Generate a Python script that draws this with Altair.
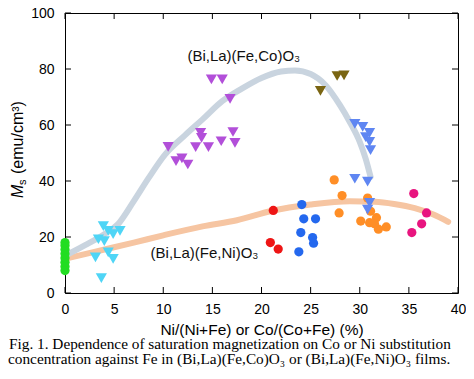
import altair as alt
import pandas as pd

# ---------------- data ----------------
# (Bi,La)(Fe,Co)O3 series – downward triangles
purple_x = [14.9, 16.0, 16.8, 13.8, 13.9, 17.1, 10.5, 13.3, 14.6, 15.9, 17.3, 11.3, 11.9, 12.5]
purple_y = [76.3, 76.3, 69.3, 57.2, 55.4, 57.5, 52.2, 52.1, 52.1, 54.2, 53.6, 47.1, 48.1, 45.9]
cyan_x = [3.9, 4.4, 3.4, 4.9, 5.6, 3.1, 4.4, 4.9, 3.7, 4.0]
cyan_y = [23.9, 22.2, 19.2, 21.0, 22.2, 12.7, 14.5, 12.2, 5.3, 18.5]
olive_x = [26.0, 27.7, 28.4]
olive_y = [72.2, 77.5, 77.7]
bluetri_x = [29.5, 30.3, 31.0, 30.6, 31.0, 31.1, 29.5, 30.8, 31.0, 30.8]
bluetri_y = [60.4, 59.3, 57.2, 55.7, 54.0, 51.0, 40.8, 39.8, 32.2, 29.8]

# (Bi,La)(Fe,Ni)O3 series – circles
green_x = [0, 0, 0, 0, 0, 0, 0, 0]
green_y = [8.0, 9.5, 11.0, 12.5, 14.0, 15.5, 17.0, 18.0]
red_x = [21.2, 20.9, 21.7]
red_y = [29.5, 18.0, 15.7]
bluecirc_x = [24.1, 24.3, 25.5, 24.0, 25.2, 25.3, 23.8]
bluecirc_y = [31.6, 26.5, 26.5, 21.6, 19.8, 17.8, 14.7]
orange_x = [27.4, 28.2, 27.9, 30.8, 31.1, 30.1, 31.0, 31.7, 31.9, 32.7, 31.5]
orange_y = [40.4, 34.8, 28.6, 33.9, 29.2, 25.7, 25.1, 26.9, 22.8, 23.6, 24.7]
magenta_x = [35.5, 36.8, 36.3, 35.3]
magenta_y = [35.5, 28.6, 24.7, 21.6]

# guide curves
co_curve_x = [0, 2, 4, 5.4, 7, 8.5, 10.2, 12.2, 14, 16, 18, 20, 22, 23.4, 25, 26.5, 28, 29, 30, 30.6, 31.1]
co_curve_y = [13.3, 17, 21, 24.6, 32.8, 41, 49.5, 56.3, 62, 68.5, 73, 76.8, 79.1, 79.5, 78.2, 74.3, 67, 61, 54, 48, 41.5]
ni_curve_x = [0, 3, 7, 10, 14, 17.5, 21, 25, 29, 31.5, 33.5, 35.6, 37.5, 39]
ni_curve_y = [12.2, 14.7, 18, 20.6, 23.8, 26, 29.3, 31.6, 32.8, 32.6, 31.8, 30.3, 28, 25.4]

x_ticks = [0, 5, 10, 15, 20, 25, 30, 35, 40]
y_ticks = [0, 20, 40, 60, 80, 100]

co_label = "(Bi,La)(Fe,Co)O₃"
ni_label = "(Bi,La)(Fe,Ni)O₃"
x_title = "Ni/(Ni+Fe) or Co/(Co+Fe) (%)"
caption1 = "Fig. 1. Dependence of saturation magnetization on Co or Ni substitution"
caption2 = "concentration against Fe in (Bi,La)(Fe,Co)O₃ or (Bi,La)(Fe,Ni)O₃ films."

tri_groups = ["purple", "cyan", "olive", "bluetri"]
tri_colors = ["#b24fd9", "#4fd5f6", "#7a6512", "#5f86f2"]
circ_groups = ["green", "red", "bluecirc", "orange", "magenta"]
circ_colors = ["#22dd22", "#ee1515", "#2468ee", "#ff8e26", "#e8157f"]
all_groups = tri_groups + circ_groups
all_colors = tri_colors + circ_colors

# ---------------- tables ----------------
def table(groups, xs, ys):
    rows = []
    for g, xx, yy in zip(groups, xs, ys):
        for a, b in zip(xx, yy):
            rows.append({"g": g, "x": a, "y": b})
    return pd.DataFrame(rows)

tri_df = table(tri_groups, [purple_x, cyan_x, olive_x, bluetri_x],
               [purple_y, cyan_y, olive_y, bluetri_y])
circ_df = table(circ_groups, [green_x, red_x, bluecirc_x, orange_x, magenta_x],
                [green_y, red_y, bluecirc_y, orange_y, magenta_y])
co_df = pd.DataFrame({"x": co_curve_x, "y": co_curve_y})
ni_df = pd.DataFrame({"x": ni_curve_x, "y": ni_curve_y})
xt_df = pd.DataFrame({"v": x_ticks})
yt_df = pd.DataFrame({"v": y_ticks})

FONT = "Liberation Sans"
XS = alt.Scale(domain=[0, 40], nice=False, zero=False)
YS = alt.Scale(domain=[0, 100], nice=False, zero=False)
W, H = 393, 280
TK = 6
PAD = {"left": 57, "top": 5, "right": 8, "bottom": 74}   # canvas 458 x 359

X_AXIS = alt.Axis(
    values=x_ticks, title=x_title, ticks=False, tickSize=0, domain=False, grid=False,
    labelFlush=False, labelOverlap=False,
    labelFont=FONT, labelFontSize=14, labelColor="#000", labelPadding=9,
    titleFont=FONT, titleFontSize=15.5, titleColor="#000", titleFontWeight="normal",
    titlePadding=6)
Y_AXIS = alt.Axis(
    values=y_ticks, title="", ticks=False, tickSize=0, domain=False, grid=False,
    labelFlush=False, labelOverlap=False,
    labelFont=FONT, labelFontSize=14, labelColor="#000", labelPadding=11)

COLOR = alt.Color("g:N", scale=alt.Scale(domain=all_groups, range=all_colors), legend=None)


def X(field="x"):
    return alt.X(f"{field}:Q", scale=XS, axis=X_AXIS, title=x_title)


def Y(field="y"):
    return alt.Y(f"{field}:Q", scale=YS, axis=Y_AXIS, title="")


# ---------------- layers ----------------
bottom_ticks = alt.Chart(xt_df).mark_rule(stroke="#000", strokeWidth=1).encode(
    x=X("v"), y=alt.value(H), y2=alt.value(H - TK))
top_ticks = alt.Chart(xt_df).mark_rule(stroke="#000", strokeWidth=1).encode(
    x=X("v"), y=alt.value(0), y2=alt.value(TK))
left_ticks = alt.Chart(yt_df).mark_rule(stroke="#000", strokeWidth=1).encode(
    y=Y("v"), x=alt.value(0), x2=alt.value(TK))
right_ticks = alt.Chart(yt_df).mark_rule(stroke="#000", strokeWidth=1).encode(
    y=Y("v"), x=alt.value(W), x2=alt.value(W - TK))

co_line = alt.Chart(co_df).mark_line(
    color="#c9d4df", strokeWidth=6, interpolate="monotone", strokeCap="round").encode(x=X(), y=Y())
ni_line = alt.Chart(ni_df).mark_line(
    color="#f6c5a2", strokeWidth=6, interpolate="monotone", strokeCap="round").encode(x=X(), y=Y())

circles = alt.Chart(circ_df).mark_point(
    shape="circle", filled=True, size=85, opacity=1, strokeWidth=0).encode(
    x=X(), y=Y(), color=COLOR)
triangles = alt.Chart(tri_df).mark_point(
    shape="triangle-down", filled=True, size=125, opacity=1, strokeWidth=0).encode(
    x=X(), y=Y(), color=COLOR)

lab_df = pd.DataFrame({"x": [18.2, 14.2], "y": [84.7, 14.4], "t": [co_label, ni_label]})
labels = alt.Chart(lab_df).mark_text(
    font=FONT, fontSize=15, color="#111", align="center", baseline="middle").encode(
    x=X(), y=Y(), text="t:N")

# y-axis title: italic M, subscript s, then units
yt_m = pd.DataFrame({"t": ["M"]})
yt_s = pd.DataFrame({"t": ["s"]})
yt_u = pd.DataFrame({"t": ["(emu/cm³)"]})
ytitle_m = alt.Chart(yt_m).mark_text(
    font=FONT, fontSize=16, fontStyle="italic", angle=270, align="left",
    baseline="alphabetic", color="#000").encode(
    x=alt.value(-42), y=alt.value(185), text="t:N")
ytitle_s = alt.Chart(yt_s).mark_text(
    font=FONT, fontSize=11, angle=270, align="left",
    baseline="alphabetic", color="#000").encode(
    x=alt.value(-39), y=alt.value(172), text="t:N")
ytitle_u = alt.Chart(yt_u).mark_text(
    font=FONT, fontSize=16, angle=270, align="left",
    baseline="alphabetic", color="#000").encode(
    x=alt.value(-42), y=alt.value(161), text="t:N")

cap_df = pd.DataFrame({"t": [caption1]})
cap2_df = pd.DataFrame({"t": [caption2]})
cap1 = alt.Chart(cap_df).mark_text(
    font="Liberation Serif", fontSize=15.3, align="left", baseline="alphabetic", color="#000").encode(
    x=alt.value(-56), y=alt.value(336), text="t:N")
cap2 = alt.Chart(cap2_df).mark_text(
    font="Liberation Serif", fontSize=15.3, align="left", baseline="alphabetic", color="#000").encode(
    x=alt.value(-57), y=alt.value(351), text="t:N")

chart = alt.layer(
    bottom_ticks, top_ticks, left_ticks, right_ticks,
    ni_line, co_line, circles, triangles, labels,
    ytitle_m, ytitle_s, ytitle_u, cap1, cap2,
).properties(
    width=W, height=H,
    autosize=alt.AutoSizeParams(type="none"),
    padding=PAD,
    background="#ffffff",
).configure_view(stroke="#000", strokeWidth=1)

chart.save("out.html", embed_options={"renderer": "svg", "actions": False})
